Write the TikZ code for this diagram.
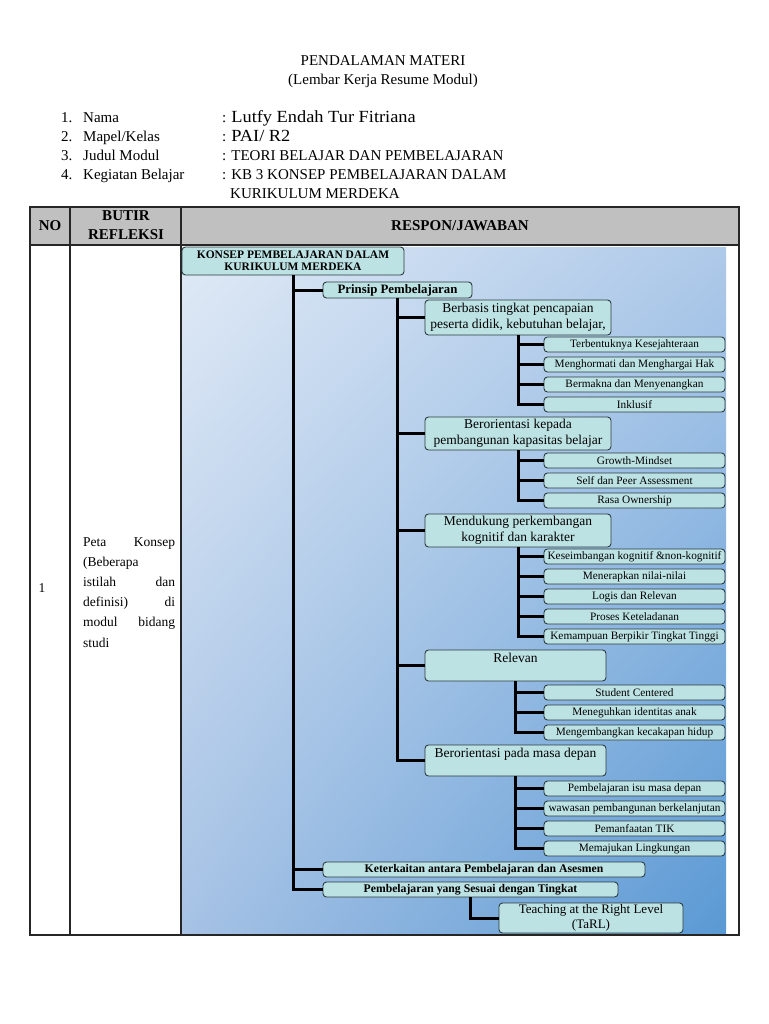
\documentclass[tikz,border=0pt]{standalone}
\usepackage{fontspec}
\setmainfont{Liberation Serif}
\newfontfamily\widefont{Liberation Serif}[FakeStretch=1.08]
\usetikzlibrary{shadings}
\definecolor{nodefill}{HTML}{BDE2E4}
\definecolor{nodeline}{HTML}{2B3B3E}
\definecolor{hdrgray}{HTML}{C0C0C0}
\definecolor{gul}{HTML}{E0EAF6}
\definecolor{gur}{HTML}{AEC9E9}
\definecolor{gll}{HTML}{A6C2E5}
\definecolor{glr}{HTML}{5A99D4}
\begin{document}
\begin{tikzpicture}[x=1pt,y=-1pt,
  box/.style={draw=nodeline, line width=0.9pt, fill=nodefill, rounded corners=3.5pt, inner sep=1pt, align=center},
  leaf/.style={box, minimum width=181pt, minimum height=15pt, font=\fontsize{11.3}{12}\selectfont},
  mid/.style={box, minimum width=186pt, font=\fontsize{13.5}{16}\selectfont},
  bbox/.style={box, minimum height=15pt, font=\bfseries\fontsize{11.7}{12}\selectfont},
  conn/.style={line width=3pt},
  hd/.style={font=\fontsize{15}{19}\selectfont, inner sep=0},
  tline/.style={line width=1.2pt, draw=black!85}]
\path[use as bounding box, fill=white] (0,0) rectangle (768,1024);

% title
\node[hd, anchor=base] (title1) at (383,66) {PENDALAMAN MATERI};
\node[hd, anchor=base] (title2) at (383,85) {(Lembar Kerja Resume Modul)};

% list
\node[hd, anchor=base west] (n1) at (61,123) {1.};
\node[hd, anchor=base west] (n2) at (61,142) {2.};
\node[hd, anchor=base west] (n3) at (61,161) {3.};
\node[hd, anchor=base west] (n4) at (61,180) {4.};
\node[hd, anchor=base west] (l1) at (83,123) {Nama};
\node[hd, anchor=base west] (l2) at (83,142) {Mapel/Kelas};
\node[hd, anchor=base west] (l3) at (83,161) {Judul Modul};
\node[hd, anchor=base west] (l4) at (83,180) {Kegiatan Belajar};
\node[hd, anchor=base west] (v1) at (222,123) {: {\widefont\fontsize{17}{19}\selectfont Lutfy Endah Tur Fitriana}};
\node[hd, anchor=base west] (v2) at (222,142) {: {\widefont\fontsize{17}{19}\selectfont PAI/ R2}};
\node[hd, anchor=base west] (v3) at (222,161) {: TEORI BELAJAR DAN PEMBELAJARAN};
\node[hd, anchor=base west] (v4) at (222,180) {: KB 3 KONSEP PEMBELAJARAN DALAM};
\node[hd, anchor=base west] (v5) at (230,199) {KURIKULUM MERDEKA};

% table background
\fill[hdrgray] (30,207) rectangle (739,245);
\shade[upper left=gul, upper right=gur, lower left=gll, lower right=glr] (182,247) rectangle (726,934);
\draw[tline] (30,207) rectangle (739,935);
\draw[tline, line width=1.6pt] (30,245) -- (739,245);
\draw[tline] (70,207) -- (70,935);
\draw[tline] (181,207) -- (181,935);

% header
\node[hd, font=\bfseries\fontsize{15}{19}\selectfont] (hno) at (50,226) {NO};
\node[hd, font=\bfseries\fontsize{15}{19}\selectfont, align=center] (hbutir) at (126,225) {BUTIR\\REFLEKSI};
\node[hd, font=\bfseries\fontsize{15}{19}\selectfont] (hresp) at (460,226) {RESPON/JAWABAN};

% left cells
\node[hd, font=\fontsize{13.5}{20}\selectfont] (no1) at (42,588) {1};
\node[anchor=north west, inner sep=0, font=\fontsize{13.5}{20.2}\selectfont, align=left] (refl) at (83,537)
  {\hbox to 92pt{Peta\hfill Konsep}\\(Beberapa\\\hbox to 92pt{istilah\hfill dan}\\\hbox to 92pt{definisi)\hfill di}\\\hbox to 92pt{modul\hfill bidang}\\studi};

% concept map nodes
\node[box, minimum width=222pt, minimum height=28pt, font=\bfseries\fontsize{11.5}{12}\selectfont] (root) at (293,261) {KONSEP PEMBELAJARAN DALAM\\KURIKULUM MERDEKA};
\node[bbox, minimum width=149pt, minimum height=16pt, font=\bfseries\fontsize{12.8}{13}\selectfont] (prinsip) at (397.5,290) {Prinsip Pembelajaran};

\node[mid, minimum height=35pt] (b1) at (518,317.5) {Berbasis tingkat pencapaian\\peserta didik, kebutuhan belajar,};
\node[leaf] (b1a) at (634.5,344.5) {Terbentuknya Kesejahteraan};
\node[leaf] (b1b) at (634.5,364.5) {Menghormati dan Menghargai Hak};
\node[leaf] (b1c) at (634.5,384.5) {Bermakna dan Menyenangkan};
\node[leaf] (b1d) at (634.5,404.5) {Inklusif};

\node[mid, minimum height=33pt] (b2) at (518,433.5) {Berorientasi kepada\\pembangunan kapasitas belajar};
\node[leaf] (b2a) at (634.5,460.5) {Growth-Mindset};
\node[leaf] (b2b) at (634.5,480.5) {Self dan Peer Assessment};
\node[leaf] (b2c) at (634.5,500.5) {Rasa Ownership};

\node[mid, minimum height=33pt] (b3) at (518,530.5) {Mendukung perkembangan\\kognitif dan karakter};
\node[leaf] (b3a) at (634.5,556.5) {Keseimbangan kognitif \&non-kognitif};
\node[leaf] (b3b) at (634.5,576.5) {Menerapkan nilai-nilai};
\node[leaf] (b3c) at (634.5,596.5) {Logis dan Relevan};
\node[leaf] (b3d) at (634.5,616.5) {Proses Keteladanan};
\node[leaf] (b3e) at (634.5,636.5) {Kemampuan Berpikir Tingkat Tinggi};

\node[mid, minimum width=181pt, minimum height=31pt] (b4) at (515.5,665.5) {Relevan\\~};
\node[leaf] (b4a) at (634.5,692.5) {Student Centered};
\node[leaf] (b4b) at (634.5,712.5) {Meneguhkan identitas anak};
\node[leaf] (b4c) at (634.5,732.5) {Mengembangkan kecakapan hidup};

\node[mid, minimum width=181pt, minimum height=31pt] (b5) at (515.5,760.5) {Berorientasi pada masa depan\\~};
\node[leaf] (b5a) at (634.5,788.5) {Pembelajaran isu masa depan};
\node[leaf] (b5b) at (634.5,808.5) {wawasan pembangunan berkelanjutan};
\node[leaf] (b5c) at (634.5,828.5) {Pemanfaatan TIK};
\node[leaf] (b5d) at (634.5,848.5) {Memajukan Lingkungan};

\node[bbox, minimum width=322pt] (ket) at (484,869.5) {Keterkaitan antara Pembelajaran dan Asesmen};
\node[bbox, minimum width=295pt] (pys) at (470.5,889.5) {Pembelajaran yang Sesuai dengan Tingkat};
\node[mid, minimum width=184pt, minimum height=30pt, font=\fontsize{13}{14.5}\selectfont] (tarl) at (591,918) {Teaching at the Right Level\\(TaRL)};

% connectors
\foreach \c in {prinsip,ket,pys} \draw[conn] (root.south) |- (\c.west);
\foreach \c in {b1,b2,b3,b4,b5} \draw[conn] (prinsip.south) |- (\c.west);
\foreach \c in {b1a,b1b,b1c,b1d} \draw[conn] (b1.south) |- (\c.west);
\foreach \c in {b2a,b2b,b2c} \draw[conn] (b2.south) |- (\c.west);
\foreach \c in {b3a,b3b,b3c,b3d,b3e} \draw[conn] (b3.south) |- (\c.west);
\foreach \c in {b4a,b4b,b4c} \draw[conn] (b4.south) |- (\c.west);
\foreach \c in {b5a,b5b,b5c,b5d} \draw[conn] (b5.south) |- (\c.west);
\draw[conn] (pys.south) |- (tarl.west);
\end{tikzpicture}
\end{document}
